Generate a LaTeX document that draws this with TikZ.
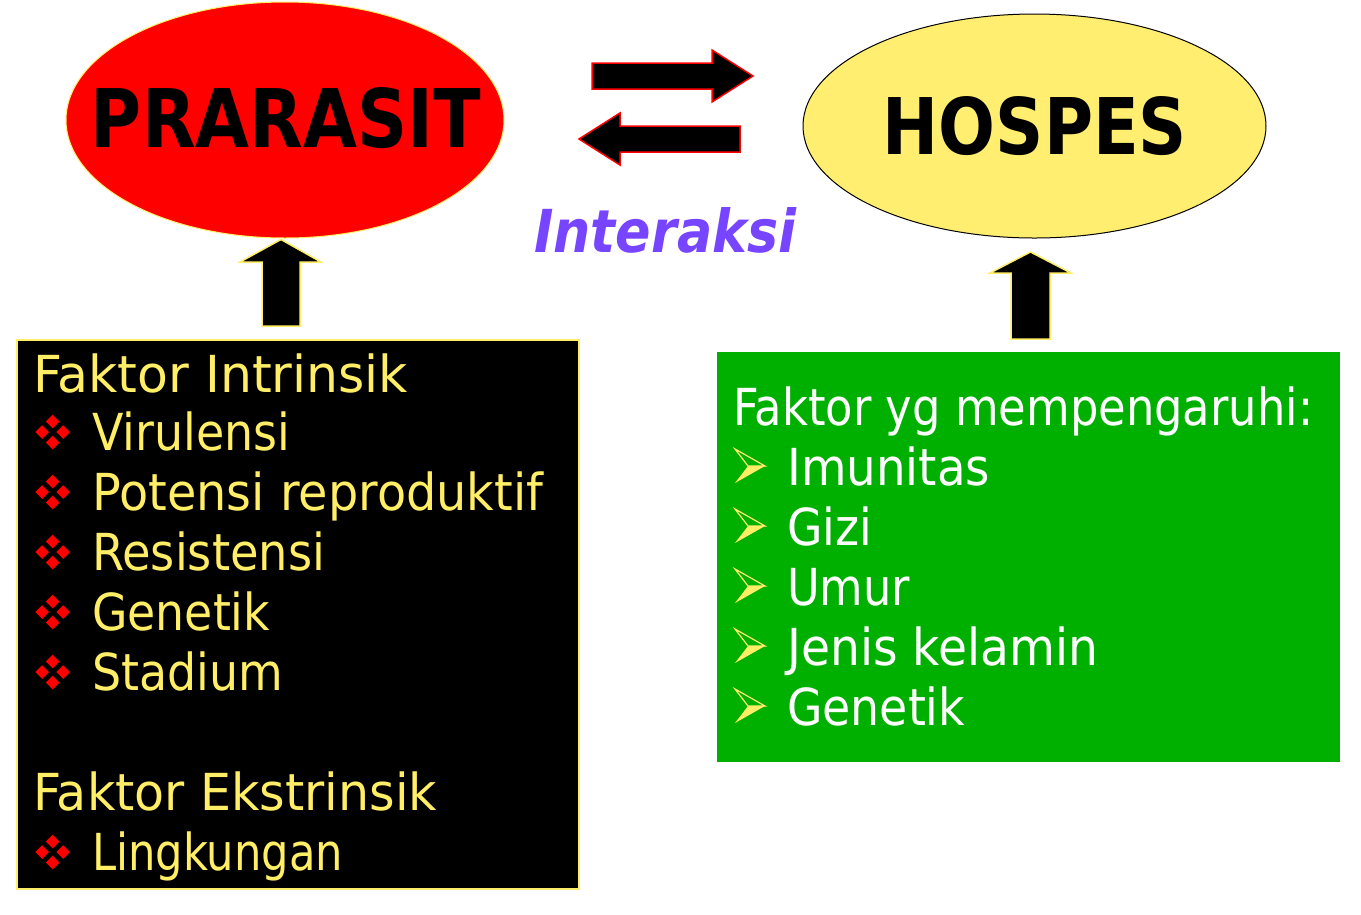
\documentclass[tikz,border=0pt]{standalone}
\usepackage{fontspec}
\setmainfont{DejaVu Sans}
\newfontfamily\bodyf[FakeStretch=0.92]{DejaVu Sans}
\newfontfamily\titlef{DejaVu Sans Bold}
\newfontfamily\interf{DejaVu Sans Bold Oblique}
\usetikzlibrary{shapes.geometric,calc}
\definecolor{txtyel}{RGB}{255,238,102}
\definecolor{hosfill}{RGB}{255,238,112}
\definecolor{boxgreen}{RGB}{0,176,0}
\definecolor{interpurple}{RGB}{119,68,255}
\definecolor{pred}{RGB}{255,0,0}
\newcommand\fitw[2]{\resizebox{#1pt}{\height}{#2}}
\tikzset{
  x=1pt,y=-1pt,
  bodytext/.style={anchor=base west,inner sep=0pt,font=\bodyf\fontsize{51}{60}\selectfont},
  ytext/.style={bodytext,text=txtyel},
  wtext/.style={bodytext,text=white},
  fatarrow/.style={fill=black,line width=1.5pt,line join=miter},
  diabul/.pic={
    \foreach \dx/\dy in {0/-10.5,-10.5/0,10.5/0,0/10.5}{
      \fill[pred] (\dx,\dy-6.8) -- (\dx+6.8,\dy) -- (\dx,\dy+6.8) -- (\dx-6.8,\dy) -- cycle;}
  },
  arrbul/.pic={
    \draw[txtyel,line width=1.2pt,line join=miter] (-15,-17) -- (15,0) -- (-2,0) -- cycle;
    \fill[txtyel] (-2,0) -- (15,0) -- (-15,17) -- cycle;
  }
}
\begin{document}
\begin{tikzpicture}
\useasboundingbox (0,0) rectangle (1361,914);
% ellipses
\node[ellipse,draw=txtyel,fill=pred,line width=1pt,minimum width=438,minimum height=236,inner sep=0pt] (par) at (285,120) {};
\node[inner sep=0pt] (partxt) at (286,118) {\resizebox{390pt}{60pt}{\titlef PRARASIT}};
\node[ellipse,draw=black,fill=hosfill,line width=1pt,minimum width=463,minimum height=224,inner sep=0pt] (hos) at (1034.5,126) {};
\node[inner sep=0pt] (hostxt) at (1035,126) {\resizebox{304pt}{58pt}{\titlef HOSPES}};
% interaction arrows
\coordinate (ra) at (592,63);
\draw[fatarrow,draw=pred] (ra) -- ++(120,0) -- (712,50) -- (753,76) -- (712,102) -- (712,89) -- (592,89) -- cycle;
\coordinate (la) at (740,126);
\draw[fatarrow,draw=pred] (la) -- (620,126) -- (620,113) -- (579,139) -- (620,165) -- (620,152) -- (740,152) -- cycle;
\node[anchor=north west,inner sep=0pt,text=interpurple] (inter) at (534,207)
  {\resizebox{262pt}{45pt}{\interf Interaksi}};
% left box
\node[draw=txtyel,fill=black,line width=2pt,minimum width=562,minimum height=549,anchor=north west,inner sep=0pt] (lbox) at (16,339) {};
% left up arrow
\coordinate (lt) at ($(par.south)+(-4,1)$);
\draw[fatarrow,draw=txtyel] (lt) -- (321,262) -- (300,262) -- (300,326) -- (262,326) -- (262,262) -- (240,262) -- cycle;
% right box
\node[fill=boxgreen,minimum width=623,minimum height=410,anchor=north west,inner sep=0pt] (rbox) at (717,352) {};
% right up arrow
\coordinate (rt) at (1030.5,252);
\draw[fatarrow,draw=txtyel] (rt) -- (1071,273) -- (1050,273) -- (1050,339) -- (1011,339) -- (1011,273) -- (990,273) -- cycle;
% left texts
\node[ytext] (fi) at (33,392) {\fitw{375}{Faktor Intrinsik}};
\node[ytext] (l1) at (92,450) {\fitw{198}{Virulensi}};
\node[ytext] (l2) at (92,510) {\fitw{451}{Potensi reproduktif}};
\node[ytext] (l3) at (92,570) {\fitw{233}{Resistensi}};
\node[ytext] (l4) at (92,630) {\fitw{178}{Genetik}};
\node[ytext] (l5) at (92,690) {\fitw{191}{Stadium}};
\node[ytext] (fe) at (33,810) {\fitw{404}{Faktor Ekstrinsik}};
\node[ytext] (l6) at (92,870) {\fitw{251}{Lingkungan}};
\foreach \yy in {450,510,570,630,690,870}{\pic at (52.7,\yy-18) {diabul};}
% right texts
\node[wtext] (fm) at (733,425) {\fitw{580}{Faktor yg mempengaruhi:}};
\node[wtext] (r1) at (787,485) {\fitw{203}{Imunitas}};
\node[wtext] (r2) at (787,545) {\fitw{85}{Gizi}};
\node[wtext] (r3) at (787,605) {\fitw{123}{Umur}};
\node[wtext] (r4) at (787,665) {\fitw{311}{Jenis kelamin}};
\node[wtext] (r5) at (787,725) {\fitw{178}{Genetik}};
\foreach \yy in {485,545,605,665,725}{\pic at (750,\yy-19) {arrbul};}
\end{tikzpicture}
\end{document}
